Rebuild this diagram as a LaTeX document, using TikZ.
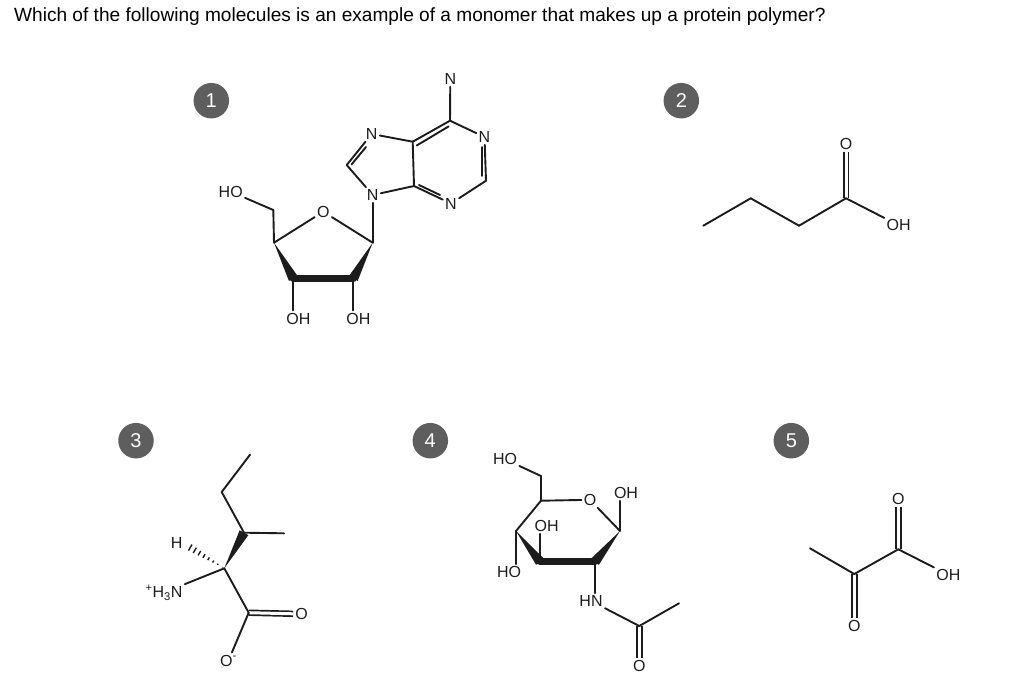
\documentclass[tikz,border=0pt]{standalone}
\usepackage{fontspec}
\setmainfont{Liberation Sans}
\usetikzlibrary{calc}
\definecolor{inkgray}{HTML}{1C1C1C}
\definecolor{badgegray}{HTML}{5E5E5E}
\newcommand{\wedgebond}[3]{\fill[inkgray] (#1) -- ($(#2)!#3!90:(#1)$) -- ($(#2)!#3!-90:(#1)$) -- cycle;}
\begin{document}
\begin{tikzpicture}
[x=1pt,y=-1pt,
  atomdecorate/.style={text=inkgray,inner sep=2.2pt,font=\fontsize{16}{16}\selectfont},%
  badgedecorate/.style={shape=circle,fill=badgegray,text=white,minimum size=35.5pt,inner sep=0pt,font=\fontsize{20}{20}\selectfont},%
  bonddecorate/.style={draw=inkgray,line width=1.9pt,line cap=round},%
  doubledecorate/.style={draw=inkgray,line width=1.7pt,double=white,double distance=3pt},%
  thickbond/.style={draw=inkgray,line width=7.5pt,line cap=round}]
\useasboundingbox (0,0) rectangle (1024,691);
% question
\node (question) at (14,16.3) [anchor=west,inner sep=0pt,font=\fontsize{19.08}{22}\selectfont] {Which of the following molecules is an example of a monomer that makes up a protein polymer?};
% badges
\node (one) at (211.3,100.7) [badgedecorate] {1};
\node (two) at (681.3,100.7) [badgedecorate] {2};
\node (three) at (136,440.7) [badgedecorate] {3};
\node (four) at (430.3,440.7) [badgedecorate] {4};
\node (five) at (791.3,440.7) [badgedecorate] {5};
% molecule 1 atoms
\node (aNamine) at (450.3,79) [atomdecorate] {N};
\node (aNone) at (484.5,137) [atomdecorate] {N};
\node (aNthree) at (451,203.5) [atomdecorate] {N};
\node (aNseven) at (371.7,134) [atomdecorate] {N};
\node (aNnine) at (372.7,195) [atomdecorate] {N};
\node (aO) at (323.3,211.7) [atomdecorate] {O};
\node (aHOtop) at (230.7,191.7) [atomdecorate] {HO};
\node (aOHleft) at (298.3,318.5) [atomdecorate] {OH};
\node (aOHright) at (358.3,318.5) [atomdecorate] {OH};
\coordinate (aCsix) at (450,120.7);
\coordinate (aCtwo) at (486,180.7);
\coordinate (aCfour) at (414,186);
\coordinate (aCfive) at (412.7,141.7);
\coordinate (aCeight) at (346.7,165);
\coordinate (aConeR) at (372.7,242.7);
\coordinate (aCfourR) at (274,242.7);
\coordinate (aCH) at (273.3,210);
\coordinate (aCthreeR) at (293.3,278.5);
\coordinate (aCtwoR) at (353.3,278.5);
\coordinate (aDa) at (416.7,145.5);
\coordinate (aDb) at (448.5,126.5);
\coordinate (aDc) at (481.7,147);
\coordinate (aDd) at (481.7,176);
\coordinate (aDe) at (419,185);
\coordinate (aDf) at (440,195);
\coordinate (aDg) at (351.5,164.5);
\coordinate (aDh) at (366,147);
% molecule 1 bonds
\path
(aCsix) edge[bonddecorate] (aNamine)
(aCsix) edge[bonddecorate] (aNone)
(aNone) edge[bonddecorate] (aCtwo)
(aCtwo) edge[bonddecorate] (aNthree)
(aNthree) edge[bonddecorate] (aCfour)
(aCfour) edge[bonddecorate] (aCfive)
(aCfive) edge[bonddecorate] (aCsix)
(aCfive) edge[bonddecorate] (aNseven)
(aNseven) edge[bonddecorate] (aCeight)
(aCeight) edge[bonddecorate] (aNnine)
(aNnine) edge[bonddecorate] (aCfour)
(aNnine) edge[bonddecorate] (aConeR)
(aConeR) edge[bonddecorate] (aO)
(aO) edge[bonddecorate] (aCfourR)
(aCfourR) edge[bonddecorate] (aCH)
(aCH) edge[bonddecorate] (aHOtop)
(aCthreeR) edge[bonddecorate] (aCthreeR |- aOHleft.north)
(aCtwoR) edge[bonddecorate] (aCtwoR |- aOHright.north)
(aDa) edge[bonddecorate] (aDb)
(aDc) edge[bonddecorate] (aDd)
(aDe) edge[bonddecorate] (aDf)
(aDg) edge[bonddecorate] (aDh)
(aCthreeR) edge[thickbond] (aCtwoR);
\wedgebond{aCfourR}{aCthreeR}{5pt}
\wedgebond{aConeR}{aCtwoR}{5pt}
% molecule 2 atoms
\node (bO) at (846,144) [atomdecorate] {O};
\node (bOH) at (898.7,225.3) [atomdecorate] {OH};
\coordinate (bCone) at (703.3,225.7);
\coordinate (bCtwo) at (750.7,198.3);
\coordinate (bCthree) at (799,225.7);
\coordinate (bCfour) at (846,198.3);
% molecule 2 bonds
\path
(bCfour) edge[doubledecorate] (bO)
(bCone) edge[bonddecorate] (bCtwo)
(bCtwo) edge[bonddecorate] (bCthree)
(bCthree) edge[bonddecorate] (bCfour)
(bCfour) edge[bonddecorate] (bOH);
% molecule 3 atoms
\node (cH) at (176.7,542.7) [atomdecorate] {H};
\node (cN) at (164,592.5) [atomdecorate] {\textsuperscript{+}H\textsubscript{3}N};
\node (cO) at (301.7,614) [atomdecorate] {O};
\node (cOminus) at (228.5,660.5) [atomdecorate] {O\textsuperscript{-}};
\coordinate (cTop) at (250,454.7);
\coordinate (cCone) at (221.7,492);
\coordinate (cCtwo) at (244,532.7);
\coordinate (cMethyl) at (284,533.3);
\coordinate (cAlpha) at (224.3,568.3);
\coordinate (cCarb) at (248.7,612.7);
\coordinate (cHashL) at (188,541.6);
\coordinate (cHashR) at (184,548.4);
% molecule 3 bonds
\path
(cCarb) edge[doubledecorate] (cO)
(cTop) edge[bonddecorate] (cCone)
(cCone) edge[bonddecorate] (cCtwo)
(cCtwo) edge[bonddecorate] (cMethyl)
(cAlpha) edge[bonddecorate] (cN)
(cAlpha) edge[bonddecorate] (cCarb)
(cCarb) edge[bonddecorate] (cOminus);
\wedgebond{cAlpha}{cCtwo}{5pt}
\foreach \t in {0.05,0.17,...,1.0}
  \draw[inkgray,line width=1.4pt] ($(cAlpha)!\t!(cHashL)$) -- ($(cAlpha)!\t!(cHashR)$);
% molecule 4 atoms
\node (dHOtop) at (505,459.3) [atomdecorate] {HO};
\node (dO) at (590,499.8) [atomdecorate] {O};
\node (dOHtop) at (626,492.7) [atomdecorate] {OH};
\node (dOHin) at (546.7,525.7) [atomdecorate] {OH};
\node (dHOlow) at (509,572.3) [atomdecorate] {HO};
\node (dNH) at (591,601) [atomdecorate] {HN};
\node (dOlow) at (639.3,666) [atomdecorate] {O};
\coordinate (dCH) at (541,476);
\coordinate (dCfive) at (541,500.7);
\coordinate (dCone) at (620,531);
\coordinate (dCtwo) at (595,561.7);
\coordinate (dCthree) at (540,561.7);
\coordinate (dCfour) at (516,531);
\coordinate (dCarb) at (639.3,626);
\coordinate (dMethyl) at (679,603.3);
% molecule 4 bonds
\path
(dCarb) edge[doubledecorate] (dOlow)
(dHOtop) edge[bonddecorate] (dCH)
(dCH) edge[bonddecorate] (dCfive)
(dCfive) edge[bonddecorate] (dO)
(dO) edge[bonddecorate] (dCone)
(dCone) edge[bonddecorate] (dCone |- dOHtop.south)
(dCfive) edge[bonddecorate] (dCfour)
(dCfour) edge[bonddecorate] (dCfour |- dHOlow.north)
(dCthree) edge[bonddecorate] (dCthree |- dOHin.south)
(dCtwo) edge[bonddecorate] (dCtwo |- dNH.north)
(dNH) edge[bonddecorate] (dCarb)
(dCarb) edge[bonddecorate] (dMethyl)
(dCthree) edge[thickbond] (dCtwo);
\wedgebond{dCfour}{dCthree}{5pt}
\wedgebond{dCone}{dCtwo}{5pt}
% molecule 5 atoms
\node (eOtop) at (898.3,498.7) [atomdecorate] {O};
\node (eOH) at (948.3,574.7) [atomdecorate] {OH};
\node (eOlow) at (854.3,626) [atomdecorate] {O};
\coordinate (eMethyl) at (810,548.3);
\coordinate (eCone) at (854.3,574);
\coordinate (eCtwo) at (898.3,549.3);
% molecule 5 bonds
\path
(eCtwo) edge[doubledecorate] (eOtop)
(eCone) edge[doubledecorate] (eOlow)
(eMethyl) edge[bonddecorate] (eCone)
(eCone) edge[bonddecorate] (eCtwo)
(eCtwo) edge[bonddecorate] (eOH);
\end{tikzpicture}
\end{document}
